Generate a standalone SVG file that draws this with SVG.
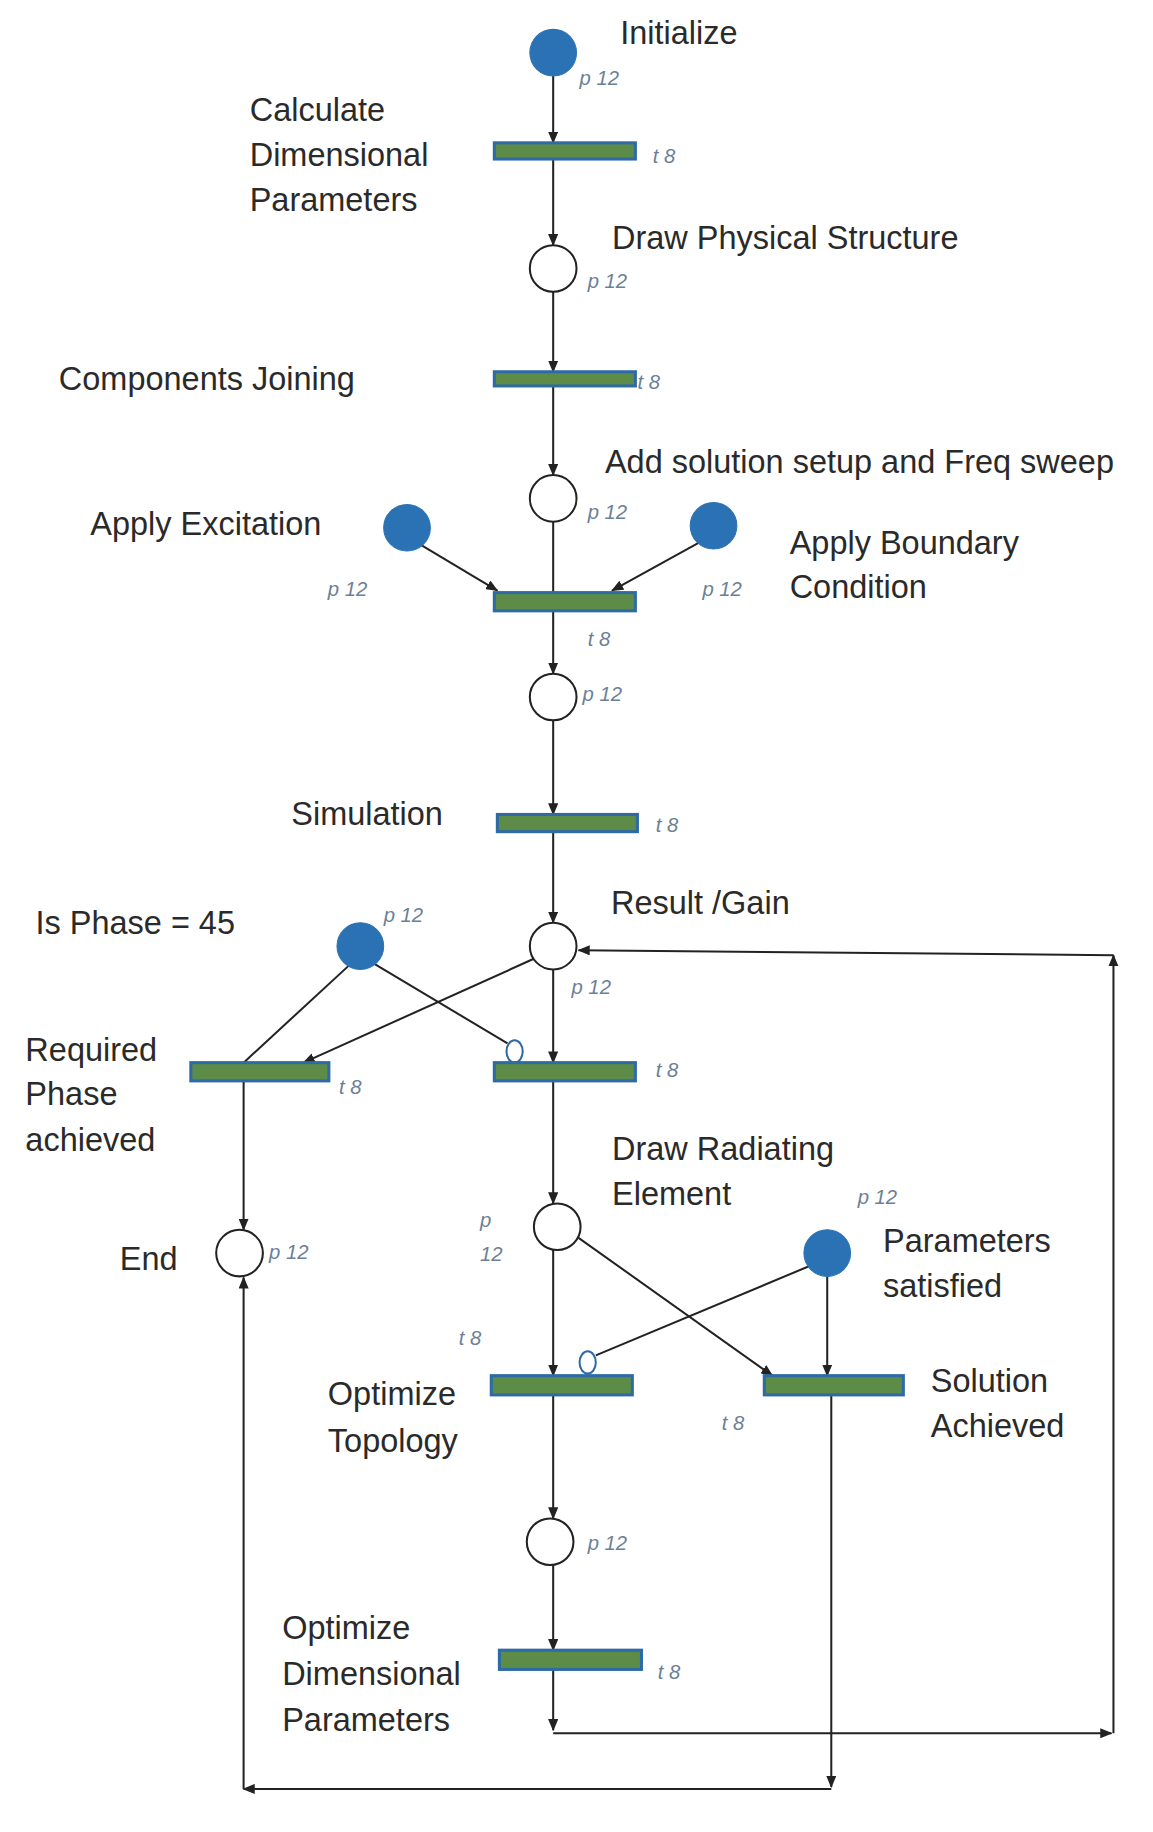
<svg xmlns="http://www.w3.org/2000/svg" width="1153" height="1832" viewBox="0 0 1153 1832">
<style>
.t{font-family:"Liberation Sans",Arial,sans-serif;font-size:32px;fill:#2a2a2a}
.s{font-family:"Liberation Sans",Arial,sans-serif;font-size:20px;font-style:italic;fill:#6b7f98}
.pl{fill:#fff;stroke:#222;stroke-width:2}
.tk{fill:#2b72b4;stroke:#2b72b4}
.tr{fill:#5c8c47;stroke:#2d6aa6;stroke-width:3}
.c{fill:none;stroke:#222;stroke-width:2}
.ih{fill:#fff;stroke:#2d6aa6;stroke-width:2}
</style>
<defs><marker id="a" markerWidth="12" markerHeight="10" refX="11" refY="5" orient="auto" markerUnits="userSpaceOnUse"><path d="M0,0 L12,5 L0,10 Z" fill="#222"/></marker></defs>
<rect width="1153" height="1832" fill="#fff"/>
<g transform="scale(1.015 1.013)">
<g id="connectors">
<line class="c" x1="545" y1="75" x2="545" y2="141" marker-end="url(#a)"/>
<line class="c" x1="545" y1="157" x2="545" y2="242" marker-end="url(#a)"/>
<line class="c" x1="545" y1="288" x2="545" y2="367" marker-end="url(#a)"/>
<line class="c" x1="545" y1="381" x2="545" y2="469" marker-end="url(#a)"/>
<line class="c" x1="545" y1="515" x2="545" y2="585"/>
<line class="c" x1="413" y1="537" x2="490" y2="583" marker-end="url(#a)"/>
<line class="c" x1="690" y1="535" x2="603" y2="583" marker-end="url(#a)"/>
<line class="c" x1="545" y1="603" x2="545" y2="665" marker-end="url(#a)"/>
<line class="c" x1="545" y1="711" x2="545" y2="804" marker-end="url(#a)"/>
<line class="c" x1="545" y1="821" x2="545" y2="911" marker-end="url(#a)"/>
<line class="c" x1="545" y1="957" x2="545" y2="1049" marker-end="url(#a)"/>
<line class="c" x1="527" y1="946" x2="299" y2="1049" marker-end="url(#a)"/>
<line class="c" x1="345" y1="952" x2="240" y2="1049"/>
<line class="c" x1="368" y1="951" x2="500" y2="1030"/>
<line class="c" x1="240" y1="1067" x2="240" y2="1214" marker-end="url(#a)"/>
<line class="c" x1="545" y1="1067" x2="545" y2="1188" marker-end="url(#a)"/>
<line class="c" x1="545" y1="1234" x2="545" y2="1358" marker-end="url(#a)"/>
<line class="c" x1="570" y1="1222" x2="761" y2="1358" marker-end="url(#a)"/>
<line class="c" x1="815" y1="1260" x2="815" y2="1358" marker-end="url(#a)"/>
<line class="c" x1="797" y1="1250" x2="587" y2="1338"/>
<line class="c" x1="545" y1="1377" x2="545" y2="1499" marker-end="url(#a)"/>
<line class="c" x1="545" y1="1545" x2="545" y2="1629" marker-end="url(#a)"/>
<line class="c" x1="545" y1="1648" x2="545" y2="1708" marker-end="url(#a)"/>
<polyline class="c" points="545,1711 1095,1711" marker-end="url(#a)"/>
<polyline class="c" points="1097,1711 1097,943" marker-end="url(#a)"/>
<polyline class="c" points="1097,943 570,938" marker-end="url(#a)"/>
<line class="c" x1="819" y1="1377" x2="819" y2="1764" marker-end="url(#a)"/>
<line class="c" x1="819" y1="1766" x2="240" y2="1766" marker-end="url(#a)"/>
<line class="c" x1="240" y1="1766" x2="240" y2="1261" marker-end="url(#a)"/>
</g>
<g id="p1"><circle class="tk" cx="545" cy="52" r="23"/><text class="t" x="611" y="43">Initialize</text><text class="s" x="571" y="84">p 12</text></g>
<g id="t1"><rect class="tr" x="487" y="141" width="139" height="16"/><text class="s" x="643" y="161">t 8</text>
<text class="t" x="246" y="119">Calculate</text><text class="t" x="246" y="164">Dimensional</text><text class="t" x="246" y="208">Parameters</text></g>
<g id="p2"><circle class="pl" cx="545" cy="265" r="23"/><text class="t" x="603" y="246">Draw Physical Structure</text><text class="s" x="579" y="284">p 12</text></g>
<g id="t2"><rect class="tr" x="487" y="367" width="139" height="14"/><text class="s" x="628" y="384">t 8</text><text class="t" x="58" y="385">Components Joining</text></g>
<g id="p3"><circle class="pl" cx="545" cy="492" r="23"/><text class="t" x="596" y="467">Add solution setup and Freq sweep</text><text class="s" x="579" y="512">p 12</text></g>
<g id="p4"><circle class="tk" cx="401" cy="521" r="23"/><text class="t" x="89" y="528">Apply Excitation</text><text class="s" x="323" y="588">p 12</text></g>
<g id="p5"><circle class="tk" cx="703" cy="519" r="23"/><text class="t" x="778" y="547">Apply Boundary</text><text class="t" x="778" y="590">Condition</text><text class="s" x="692" y="588">p 12</text></g>
<g id="t3"><rect class="tr" x="487" y="585" width="139" height="18"/><text class="s" x="579" y="638">t 8</text></g>
<g id="p6"><circle class="pl" cx="545" cy="688" r="23"/><text class="s" x="574" y="692">p 12</text></g>
<g id="t4"><rect class="tr" x="490" y="804" width="138" height="17"/><text class="s" x="646" y="821">t 8</text><text class="t" x="287" y="814">Simulation</text></g>
<g id="p7"><circle class="pl" cx="545" cy="934" r="23"/><text class="t" x="602" y="902">Result /Gain</text><text class="s" x="563" y="981">p 12</text></g>
<g id="p8"><circle class="tk" cx="355" cy="934" r="23"/><text class="t" x="35" y="922">Is Phase = 45</text><text class="s" x="378" y="910">p 12</text></g>
<g id="t5"><rect class="tr" x="188" y="1049" width="136" height="18"/><text class="s" x="334" y="1080">t 8</text>
<text class="t" x="25" y="1047">Required</text><text class="t" x="25" y="1091">Phase</text><text class="t" x="25" y="1136">achieved</text></g>
<g id="t6"><ellipse class="ih" cx="507" cy="1038" rx="8" ry="11"/><rect class="tr" x="487" y="1049" width="139" height="18"/><text class="s" x="646" y="1063">t 8</text></g>
<g id="p9"><circle class="pl" cx="549" cy="1211" r="23"/><text class="t" x="603" y="1145">Draw Radiating</text><text class="t" x="603" y="1190">Element</text><text class="s" x="473" y="1211">p</text><text class="s" x="473" y="1245">12</text></g>
<g id="p10"><circle class="pl" cx="236" cy="1237" r="23"/><text class="t" x="118" y="1254">End</text><text class="s" x="265" y="1243">p 12</text></g>
<g id="p11"><circle class="tk" cx="815" cy="1237" r="23"/><text class="t" x="870" y="1236">Parameters</text><text class="t" x="870" y="1280">satisfied</text><text class="s" x="845" y="1189">p 12</text></g>
<g id="t7"><ellipse class="ih" cx="579" cy="1345" rx="8" ry="11"/><rect class="tr" x="484" y="1358" width="139" height="19"/><text class="s" x="452" y="1328">t 8</text>
<text class="t" x="323" y="1387">Optimize</text><text class="t" x="323" y="1433">Topology</text></g>
<g id="t8"><rect class="tr" x="753" y="1358" width="137" height="19"/><text class="s" x="711" y="1412">t 8</text><text class="t" x="917" y="1374">Solution</text><text class="t" x="917" y="1419">Achieved</text></g>
<g id="p12"><circle class="pl" cx="542" cy="1522" r="23"/><text class="s" x="579" y="1530">p 12</text></g>
<g id="t9"><rect class="tr" x="492" y="1629" width="140" height="19"/><text class="s" x="648" y="1657">t 8</text>
<text class="t" x="278" y="1618">Optimize</text><text class="t" x="278" y="1663">Dimensional</text><text class="t" x="278" y="1709">Parameters</text></g>
</g>
</svg>
